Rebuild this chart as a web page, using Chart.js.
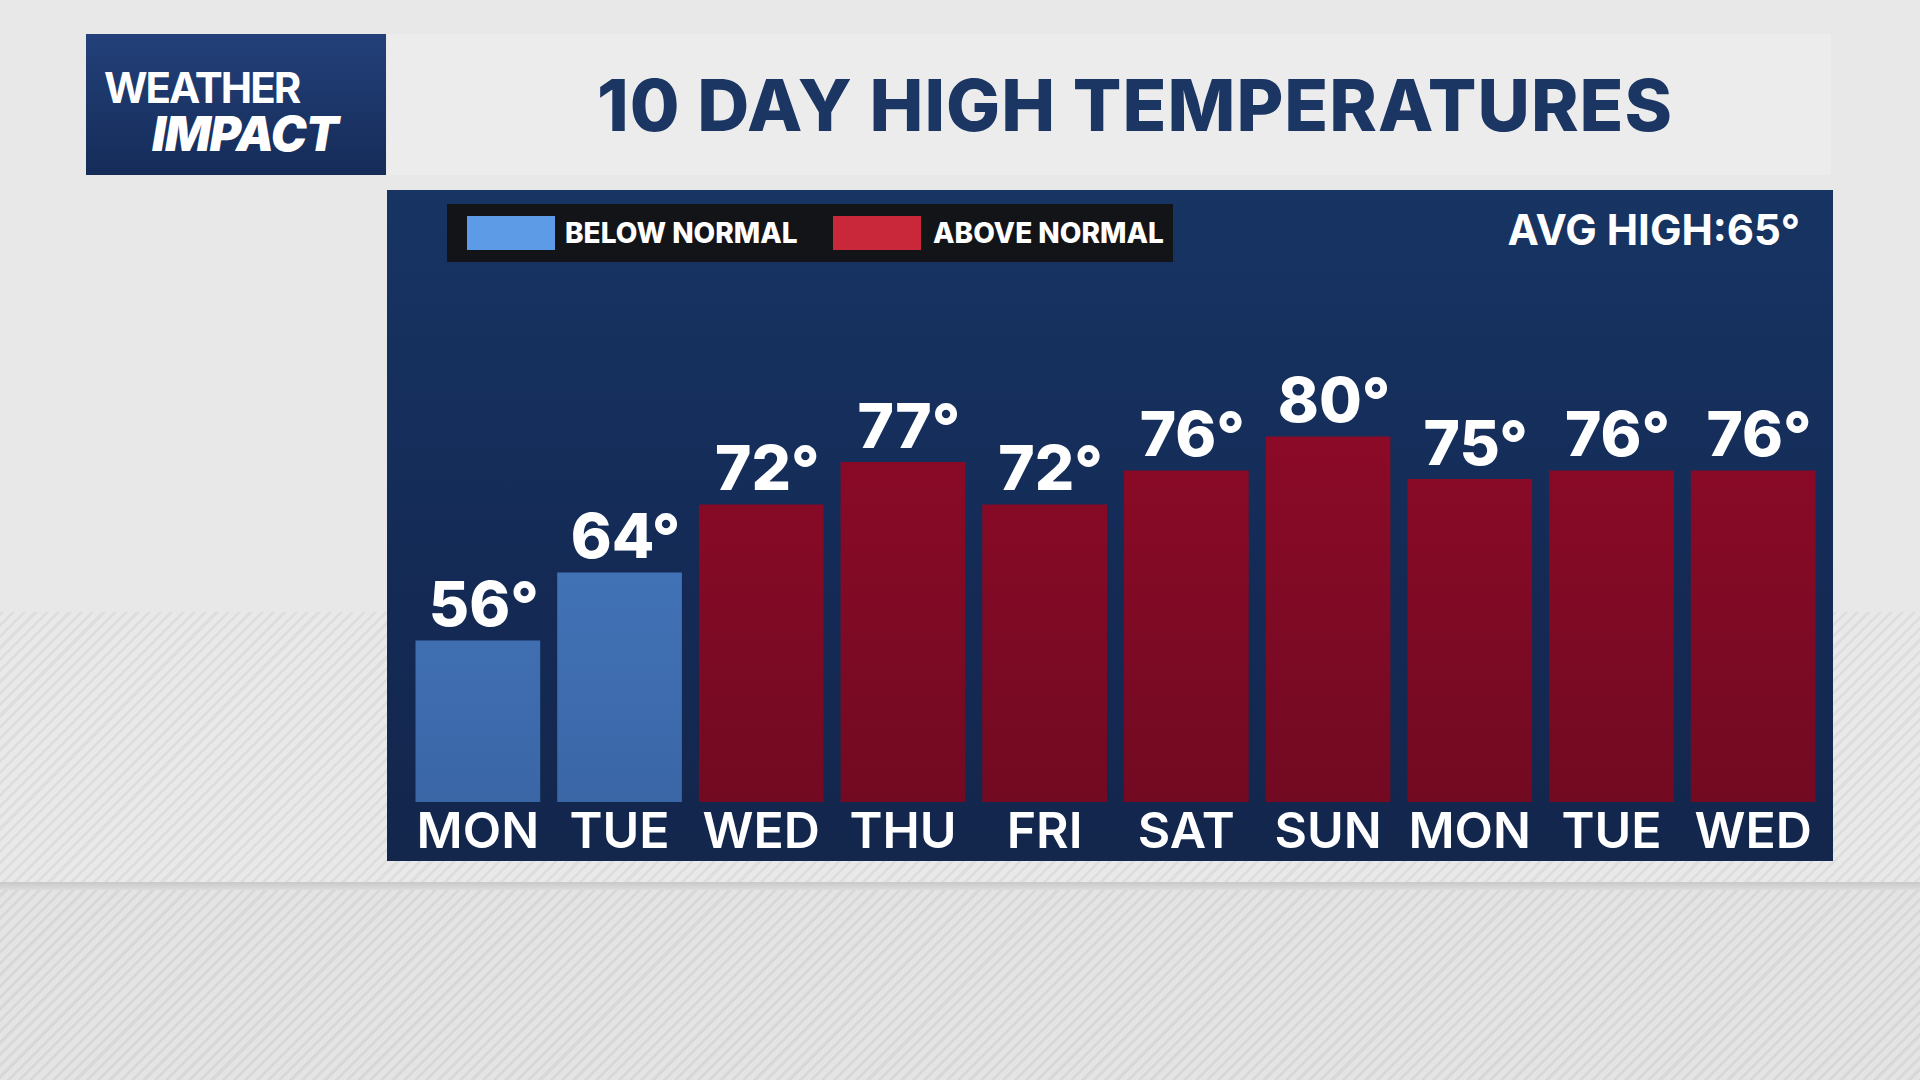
<!DOCTYPE html>
<html>
<head>
<meta charset="utf-8">
<script src="https://cdn.jsdelivr.net/npm/chart.js"></script>
<style>
body{margin:0;width:1920px;height:1080px;overflow:hidden;font-family:Inter,"Open Sans",sans-serif;
background:repeating-linear-gradient(135deg,#d8d8d8 0 3px,#e4e4e4 3px 8px);}
.top{position:absolute;left:0;top:0;width:1920px;height:612px;background:#e8e8e8;}
.band{position:absolute;left:0;top:612px;width:1920px;height:270px;background:repeating-linear-gradient(135deg,#dedede 0 3px,#e9e9e9 3px 8px);}
.shadow{position:absolute;left:0;top:882px;width:1920px;height:8px;background:linear-gradient(#c8c8c8,#dcdcdc);}
.logo{position:absolute;left:86px;top:34px;width:300px;height:141px;background:linear-gradient(#23407a,#152c58);color:#fff;font-weight:900;font-style:italic;}
.logo .a{position:absolute;left:18px;top:28px;font-size:42px;letter-spacing:-2px;font-style:normal;font-weight:700;}
.logo .b{position:absolute;left:66px;top:70px;font-size:48px;letter-spacing:-1px;}
.title{position:absolute;left:387px;top:34px;width:1392px;padding-left:52px;height:141px;background:#ececec;color:#1c3664;font-weight:800;font-size:72px;letter-spacing:1px;text-align:center;line-height:141px;}
.panel{position:absolute;left:387px;top:190px;width:1446px;height:671px;background:linear-gradient(#173463,#142a55 60%,#13264c);}
.legend{position:absolute;left:447px;top:204px;width:726px;height:58px;background:#121418;color:#fff;font-weight:800;font-size:28px;}
.legend span{position:absolute;top:12px;}
.sw{position:absolute;top:12px;width:88px;height:34px;}
.avg{position:absolute;right:120px;top:204px;color:#fff;font-weight:700;font-size:42px;}
.wrap{position:absolute;left:407px;top:190px;width:1417px;height:671px}
</style>
</head>
<body>
<div class="top"></div><div class="band"></div><div class="shadow"></div>
<div class="logo"><div class="a">WEATHER</div><div class="b">IMPACT</div></div>
<div class="title">10 DAY HIGH TEMPERATURES</div>
<div class="panel"></div>
<div class="legend">
<div class="sw" style="left:20px;background:#5d9be6"></div><span style="left:118px">BELOW NORMAL</span>
<div class="sw" style="left:386px;background:#c8283a"></div><span style="left:486px">ABOVE NORMAL</span>
</div>
<div class="avg">AVG HIGH:65°</div>
<div class="wrap"><canvas id="c"></canvas></div>
<script>
const days=["MON","TUE","WED","THU","FRI","SAT","SUN","MON","TUE","WED"];
const highs=[56,64,72,77,72,76,80,75,76,76];
const avgHigh=65;

const labelPlugin={id:"labels",afterDatasetsDraw(chart){
const ctx=chart.ctx;const meta=chart.getDatasetMeta(0);
ctx.save();ctx.fillStyle="#fff";ctx.textAlign="center";
meta.data.forEach((bar,i)=>{
ctx.font="800 62px Inter";ctx.textBaseline="bottom";
ctx.fillText(highs[i]+"°",bar.x+6,bar.y-2);
ctx.font="600 50px Inter";ctx.textBaseline="middle";
ctx.fillText(days[i],bar.x,833-190);
});
ctx.restore();}};

new Chart(document.getElementById("c"),{
type:"bar",
data:{labels:days,datasets:[{data:highs,barPercentage:0.88,categoryPercentage:1,
backgroundColor(c){
const ch=c.chart;const a=ch.chartArea;if(!a)return "#900";
const g=ch.ctx.createLinearGradient(0,a.top,0,a.bottom);
if(highs[c.dataIndex]<avgHigh){g.addColorStop(0,"#4f86d2");g.addColorStop(1,"#3a66a6");}
else{g.addColorStop(0,"#9c0a2a");g.addColorStop(1,"#720a22");}
return g;}}]},
options:{responsive:true,maintainAspectRatio:false,animation:false,
layout:{padding:{bottom:59}},
plugins:{legend:{display:false},tooltip:{enabled:false}},
scales:{x:{display:false},y:{display:false,min:37,max:109}}},
plugins:[labelPlugin]});
</script>
</body>
</html>
